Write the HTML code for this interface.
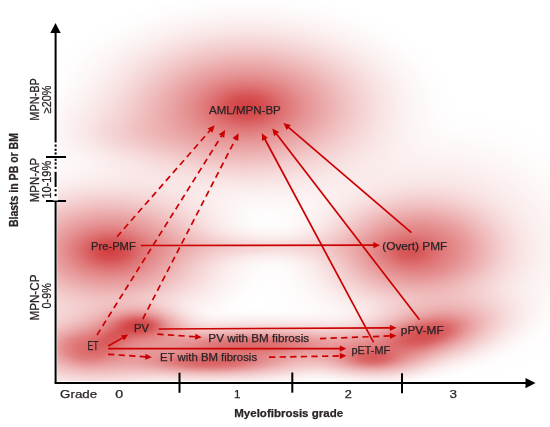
<!DOCTYPE html>
<html><head><meta charset="utf-8"><style>
html,body{margin:0;padding:0;background:#fff;}
svg{display:block;}
text{font-family:"Liberation Sans","DejaVu Sans",sans-serif;fill:#2a2326;stroke:#2a2326;stroke-width:0.25px;}
</style></head><body>
<svg width="550" height="427" viewBox="0 0 550 427">
<defs><radialGradient id="b0" cx="0.5" cy="0.5" r="0.5"><stop offset="0.0000" stop-color="#cd282a" stop-opacity="0.1200"/><stop offset="0.0833" stop-color="#cd282a" stop-opacity="0.1164"/><stop offset="0.1667" stop-color="#cd282a" stop-opacity="0.1032"/><stop offset="0.2500" stop-color="#cd282a" stop-opacity="0.0792"/><stop offset="0.3333" stop-color="#cd282a" stop-opacity="0.0576"/><stop offset="0.4167" stop-color="#cd282a" stop-opacity="0.0408"/><stop offset="0.5000" stop-color="#cd282a" stop-opacity="0.0282"/><stop offset="0.5833" stop-color="#cd282a" stop-opacity="0.0180"/><stop offset="0.6667" stop-color="#cd282a" stop-opacity="0.0102"/><stop offset="0.7500" stop-color="#cd282a" stop-opacity="0.0048"/><stop offset="0.8333" stop-color="#cd282a" stop-opacity="0.0014"/><stop offset="0.9167" stop-color="#cd282a" stop-opacity="0.0000"/><stop offset="1.0000" stop-color="#cd282a" stop-opacity="0.0000"/></radialGradient>
<radialGradient id="b1" cx="0.5" cy="0.5" r="0.5"><stop offset="0.0000" stop-color="#cd282a" stop-opacity="0.9000"/><stop offset="0.0833" stop-color="#cd282a" stop-opacity="0.8100"/><stop offset="0.1667" stop-color="#cd282a" stop-opacity="0.6480"/><stop offset="0.2500" stop-color="#cd282a" stop-opacity="0.5130"/><stop offset="0.3333" stop-color="#cd282a" stop-opacity="0.4050"/><stop offset="0.4167" stop-color="#cd282a" stop-opacity="0.3015"/><stop offset="0.5000" stop-color="#cd282a" stop-opacity="0.2115"/><stop offset="0.5833" stop-color="#cd282a" stop-opacity="0.1350"/><stop offset="0.6667" stop-color="#cd282a" stop-opacity="0.0765"/><stop offset="0.7500" stop-color="#cd282a" stop-opacity="0.0360"/><stop offset="0.8333" stop-color="#cd282a" stop-opacity="0.0108"/><stop offset="0.9167" stop-color="#cd282a" stop-opacity="0.0000"/><stop offset="1.0000" stop-color="#cd282a" stop-opacity="0.0000"/></radialGradient>
<radialGradient id="b2" cx="0.5" cy="0.5" r="0.5"><stop offset="0.0000" stop-color="#cd282a" stop-opacity="0.9000"/><stop offset="0.0833" stop-color="#cd282a" stop-opacity="0.8100"/><stop offset="0.1667" stop-color="#cd282a" stop-opacity="0.6480"/><stop offset="0.2500" stop-color="#cd282a" stop-opacity="0.5130"/><stop offset="0.3333" stop-color="#cd282a" stop-opacity="0.4050"/><stop offset="0.4167" stop-color="#cd282a" stop-opacity="0.3015"/><stop offset="0.5000" stop-color="#cd282a" stop-opacity="0.2115"/><stop offset="0.5833" stop-color="#cd282a" stop-opacity="0.1350"/><stop offset="0.6667" stop-color="#cd282a" stop-opacity="0.0765"/><stop offset="0.7500" stop-color="#cd282a" stop-opacity="0.0360"/><stop offset="0.8333" stop-color="#cd282a" stop-opacity="0.0108"/><stop offset="0.9167" stop-color="#cd282a" stop-opacity="0.0000"/><stop offset="1.0000" stop-color="#cd282a" stop-opacity="0.0000"/></radialGradient>
<radialGradient id="b3" cx="0.5" cy="0.5" r="0.5"><stop offset="0.0000" stop-color="#cd282a" stop-opacity="0.3300"/><stop offset="0.0833" stop-color="#cd282a" stop-opacity="0.3201"/><stop offset="0.1667" stop-color="#cd282a" stop-opacity="0.2838"/><stop offset="0.2500" stop-color="#cd282a" stop-opacity="0.2178"/><stop offset="0.3333" stop-color="#cd282a" stop-opacity="0.1584"/><stop offset="0.4167" stop-color="#cd282a" stop-opacity="0.1122"/><stop offset="0.5000" stop-color="#cd282a" stop-opacity="0.0775"/><stop offset="0.5833" stop-color="#cd282a" stop-opacity="0.0495"/><stop offset="0.6667" stop-color="#cd282a" stop-opacity="0.0281"/><stop offset="0.7500" stop-color="#cd282a" stop-opacity="0.0132"/><stop offset="0.8333" stop-color="#cd282a" stop-opacity="0.0040"/><stop offset="0.9167" stop-color="#cd282a" stop-opacity="0.0000"/><stop offset="1.0000" stop-color="#cd282a" stop-opacity="0.0000"/></radialGradient>
<radialGradient id="b4" cx="0.5" cy="0.5" r="0.5"><stop offset="0.0000" stop-color="#cd282a" stop-opacity="0.7200"/><stop offset="0.0833" stop-color="#cd282a" stop-opacity="0.6480"/><stop offset="0.1667" stop-color="#cd282a" stop-opacity="0.5184"/><stop offset="0.2500" stop-color="#cd282a" stop-opacity="0.4104"/><stop offset="0.3333" stop-color="#cd282a" stop-opacity="0.3240"/><stop offset="0.4167" stop-color="#cd282a" stop-opacity="0.2412"/><stop offset="0.5000" stop-color="#cd282a" stop-opacity="0.1692"/><stop offset="0.5833" stop-color="#cd282a" stop-opacity="0.1080"/><stop offset="0.6667" stop-color="#cd282a" stop-opacity="0.0612"/><stop offset="0.7500" stop-color="#cd282a" stop-opacity="0.0288"/><stop offset="0.8333" stop-color="#cd282a" stop-opacity="0.0086"/><stop offset="0.9167" stop-color="#cd282a" stop-opacity="0.0000"/><stop offset="1.0000" stop-color="#cd282a" stop-opacity="0.0000"/></radialGradient>
<radialGradient id="b5" cx="0.5" cy="0.5" r="0.5"><stop offset="0.0000" stop-color="#cd282a" stop-opacity="0.6500"/><stop offset="0.0833" stop-color="#cd282a" stop-opacity="0.6305"/><stop offset="0.1667" stop-color="#cd282a" stop-opacity="0.5590"/><stop offset="0.2500" stop-color="#cd282a" stop-opacity="0.4290"/><stop offset="0.3333" stop-color="#cd282a" stop-opacity="0.3120"/><stop offset="0.4167" stop-color="#cd282a" stop-opacity="0.2210"/><stop offset="0.5000" stop-color="#cd282a" stop-opacity="0.1527"/><stop offset="0.5833" stop-color="#cd282a" stop-opacity="0.0975"/><stop offset="0.6667" stop-color="#cd282a" stop-opacity="0.0553"/><stop offset="0.7500" stop-color="#cd282a" stop-opacity="0.0260"/><stop offset="0.8333" stop-color="#cd282a" stop-opacity="0.0078"/><stop offset="0.9167" stop-color="#cd282a" stop-opacity="0.0000"/><stop offset="1.0000" stop-color="#cd282a" stop-opacity="0.0000"/></radialGradient>
<radialGradient id="b6" cx="0.5" cy="0.5" r="0.5"><stop offset="0.0000" stop-color="#cd282a" stop-opacity="0.1600"/><stop offset="0.0833" stop-color="#cd282a" stop-opacity="0.1552"/><stop offset="0.1667" stop-color="#cd282a" stop-opacity="0.1376"/><stop offset="0.2500" stop-color="#cd282a" stop-opacity="0.1056"/><stop offset="0.3333" stop-color="#cd282a" stop-opacity="0.0768"/><stop offset="0.4167" stop-color="#cd282a" stop-opacity="0.0544"/><stop offset="0.5000" stop-color="#cd282a" stop-opacity="0.0376"/><stop offset="0.5833" stop-color="#cd282a" stop-opacity="0.0240"/><stop offset="0.6667" stop-color="#cd282a" stop-opacity="0.0136"/><stop offset="0.7500" stop-color="#cd282a" stop-opacity="0.0064"/><stop offset="0.8333" stop-color="#cd282a" stop-opacity="0.0019"/><stop offset="0.9167" stop-color="#cd282a" stop-opacity="0.0000"/><stop offset="1.0000" stop-color="#cd282a" stop-opacity="0.0000"/></radialGradient>
<radialGradient id="b7" cx="0.5" cy="0.5" r="0.5"><stop offset="0.0000" stop-color="#cd282a" stop-opacity="0.6800"/><stop offset="0.0833" stop-color="#cd282a" stop-opacity="0.6596"/><stop offset="0.1667" stop-color="#cd282a" stop-opacity="0.5848"/><stop offset="0.2500" stop-color="#cd282a" stop-opacity="0.4488"/><stop offset="0.3333" stop-color="#cd282a" stop-opacity="0.3264"/><stop offset="0.4167" stop-color="#cd282a" stop-opacity="0.2312"/><stop offset="0.5000" stop-color="#cd282a" stop-opacity="0.1598"/><stop offset="0.5833" stop-color="#cd282a" stop-opacity="0.1020"/><stop offset="0.6667" stop-color="#cd282a" stop-opacity="0.0578"/><stop offset="0.7500" stop-color="#cd282a" stop-opacity="0.0272"/><stop offset="0.8333" stop-color="#cd282a" stop-opacity="0.0082"/><stop offset="0.9167" stop-color="#cd282a" stop-opacity="0.0000"/><stop offset="1.0000" stop-color="#cd282a" stop-opacity="0.0000"/></radialGradient>
<radialGradient id="b8" cx="0.5" cy="0.5" r="0.5"><stop offset="0.0000" stop-color="#cd282a" stop-opacity="0.6200"/><stop offset="0.0833" stop-color="#cd282a" stop-opacity="0.6014"/><stop offset="0.1667" stop-color="#cd282a" stop-opacity="0.5332"/><stop offset="0.2500" stop-color="#cd282a" stop-opacity="0.4092"/><stop offset="0.3333" stop-color="#cd282a" stop-opacity="0.2976"/><stop offset="0.4167" stop-color="#cd282a" stop-opacity="0.2108"/><stop offset="0.5000" stop-color="#cd282a" stop-opacity="0.1457"/><stop offset="0.5833" stop-color="#cd282a" stop-opacity="0.0930"/><stop offset="0.6667" stop-color="#cd282a" stop-opacity="0.0527"/><stop offset="0.7500" stop-color="#cd282a" stop-opacity="0.0248"/><stop offset="0.8333" stop-color="#cd282a" stop-opacity="0.0074"/><stop offset="0.9167" stop-color="#cd282a" stop-opacity="0.0000"/><stop offset="1.0000" stop-color="#cd282a" stop-opacity="0.0000"/></radialGradient>
<radialGradient id="b9" cx="0.5" cy="0.5" r="0.5"><stop offset="0.0000" stop-color="#cd282a" stop-opacity="0.4500"/><stop offset="0.0833" stop-color="#cd282a" stop-opacity="0.4365"/><stop offset="0.1667" stop-color="#cd282a" stop-opacity="0.3870"/><stop offset="0.2500" stop-color="#cd282a" stop-opacity="0.2970"/><stop offset="0.3333" stop-color="#cd282a" stop-opacity="0.2160"/><stop offset="0.4167" stop-color="#cd282a" stop-opacity="0.1530"/><stop offset="0.5000" stop-color="#cd282a" stop-opacity="0.1057"/><stop offset="0.5833" stop-color="#cd282a" stop-opacity="0.0675"/><stop offset="0.6667" stop-color="#cd282a" stop-opacity="0.0383"/><stop offset="0.7500" stop-color="#cd282a" stop-opacity="0.0180"/><stop offset="0.8333" stop-color="#cd282a" stop-opacity="0.0054"/><stop offset="0.9167" stop-color="#cd282a" stop-opacity="0.0000"/><stop offset="1.0000" stop-color="#cd282a" stop-opacity="0.0000"/></radialGradient>
<radialGradient id="b10" cx="0.5" cy="0.5" r="0.5"><stop offset="0.0000" stop-color="#cd282a" stop-opacity="0.8000"/><stop offset="0.0833" stop-color="#cd282a" stop-opacity="0.7760"/><stop offset="0.1667" stop-color="#cd282a" stop-opacity="0.6880"/><stop offset="0.2500" stop-color="#cd282a" stop-opacity="0.5280"/><stop offset="0.3333" stop-color="#cd282a" stop-opacity="0.3840"/><stop offset="0.4167" stop-color="#cd282a" stop-opacity="0.2720"/><stop offset="0.5000" stop-color="#cd282a" stop-opacity="0.1880"/><stop offset="0.5833" stop-color="#cd282a" stop-opacity="0.1200"/><stop offset="0.6667" stop-color="#cd282a" stop-opacity="0.0680"/><stop offset="0.7500" stop-color="#cd282a" stop-opacity="0.0320"/><stop offset="0.8333" stop-color="#cd282a" stop-opacity="0.0096"/><stop offset="0.9167" stop-color="#cd282a" stop-opacity="0.0000"/><stop offset="1.0000" stop-color="#cd282a" stop-opacity="0.0000"/></radialGradient>
<radialGradient id="b11" cx="0.5" cy="0.5" r="0.5"><stop offset="0.0000" stop-color="#cd282a" stop-opacity="0.8000"/><stop offset="0.0833" stop-color="#cd282a" stop-opacity="0.7760"/><stop offset="0.1667" stop-color="#cd282a" stop-opacity="0.6880"/><stop offset="0.2500" stop-color="#cd282a" stop-opacity="0.5280"/><stop offset="0.3333" stop-color="#cd282a" stop-opacity="0.3840"/><stop offset="0.4167" stop-color="#cd282a" stop-opacity="0.2720"/><stop offset="0.5000" stop-color="#cd282a" stop-opacity="0.1880"/><stop offset="0.5833" stop-color="#cd282a" stop-opacity="0.1200"/><stop offset="0.6667" stop-color="#cd282a" stop-opacity="0.0680"/><stop offset="0.7500" stop-color="#cd282a" stop-opacity="0.0320"/><stop offset="0.8333" stop-color="#cd282a" stop-opacity="0.0096"/><stop offset="0.9167" stop-color="#cd282a" stop-opacity="0.0000"/><stop offset="1.0000" stop-color="#cd282a" stop-opacity="0.0000"/></radialGradient>
<radialGradient id="b12" cx="0.5" cy="0.5" r="0.5"><stop offset="0.0000" stop-color="#cd282a" stop-opacity="0.6500"/><stop offset="0.0833" stop-color="#cd282a" stop-opacity="0.6305"/><stop offset="0.1667" stop-color="#cd282a" stop-opacity="0.5590"/><stop offset="0.2500" stop-color="#cd282a" stop-opacity="0.4290"/><stop offset="0.3333" stop-color="#cd282a" stop-opacity="0.3120"/><stop offset="0.4167" stop-color="#cd282a" stop-opacity="0.2210"/><stop offset="0.5000" stop-color="#cd282a" stop-opacity="0.1527"/><stop offset="0.5833" stop-color="#cd282a" stop-opacity="0.0975"/><stop offset="0.6667" stop-color="#cd282a" stop-opacity="0.0553"/><stop offset="0.7500" stop-color="#cd282a" stop-opacity="0.0260"/><stop offset="0.8333" stop-color="#cd282a" stop-opacity="0.0078"/><stop offset="0.9167" stop-color="#cd282a" stop-opacity="0.0000"/><stop offset="1.0000" stop-color="#cd282a" stop-opacity="0.0000"/></radialGradient><clipPath id="plot"><rect x="57.2" y="0" width="494" height="381.2"/></clipPath></defs>
<rect width="550" height="427" fill="#fff"/>
<g clip-path="url(#plot)"><ellipse cx="135" cy="135" rx="180" ry="66" fill="url(#b0)"/>
<ellipse cx="247" cy="107" rx="228" ry="126" fill="url(#b1)"/>
<ellipse cx="110" cy="251" rx="186" ry="108" fill="url(#b2)"/>
<ellipse cx="432" cy="246" rx="210" ry="156" fill="url(#b3)"/>
<ellipse cx="410" cy="252" rx="144" ry="81" fill="url(#b4)"/>
<ellipse cx="255" cy="344" rx="270" ry="39" fill="url(#b5)"/>
<ellipse cx="255" cy="247" rx="270" ry="27" fill="url(#b6)"/>
<ellipse cx="210" cy="362" rx="195" ry="33" fill="url(#b7)"/>
<ellipse cx="86" cy="348" rx="126" ry="66" fill="url(#b8)"/>
<ellipse cx="115" cy="336" rx="66" ry="27" fill="url(#b9)" transform="rotate(-28 115 336)"/>
<ellipse cx="140" cy="326" rx="84" ry="36" fill="url(#b10)"/>
<ellipse cx="426" cy="334" rx="141" ry="54" fill="url(#b11)" transform="rotate(-12 426 334)"/>
<ellipse cx="372" cy="358" rx="90" ry="33" fill="url(#b12)"/></g>
<g><line x1="117.00" y1="236.70" x2="210.65" y2="129.81" stroke="#cc0000" stroke-width="1.7" stroke-dasharray="6.3 4.3"/><polygon points="214.60,125.30 212.43,132.71 207.54,128.42" fill="#cc0000"/>
<line x1="97.00" y1="335.00" x2="222.02" y2="135.09" stroke="#cc0000" stroke-width="1.7" stroke-dasharray="6.3 4.3"/><polygon points="225.20,130.00 224.24,137.66 218.73,134.21" fill="#cc0000"/>
<line x1="142.80" y1="319.00" x2="235.85" y2="138.53" stroke="#cc0000" stroke-width="1.7" stroke-dasharray="6.3 4.3"/><polygon points="238.60,133.20 238.28,140.91 232.50,137.93" fill="#cc0000"/>
<line x1="108.00" y1="354.30" x2="146.41" y2="356.83" stroke="#cc0000" stroke-width="1.7" stroke-dasharray="6.3 4.3"/><polygon points="152.00,357.20 145.21,359.86 145.62,353.67" fill="#cc0000"/>
<line x1="269.00" y1="357.20" x2="340.80" y2="355.90" stroke="#cc0000" stroke-width="1.7" stroke-dasharray="6.3 4.3"/><polygon points="346.40,355.80 339.86,359.02 339.75,352.82" fill="#cc0000"/>
<line x1="157.30" y1="334.10" x2="196.21" y2="336.81" stroke="#cc0000" stroke-width="1.7" stroke-dasharray="6.3 4.3"/><polygon points="201.80,337.20 195.00,339.83 195.43,333.65" fill="#cc0000"/>
<line x1="320.00" y1="338.60" x2="390.90" y2="335.91" stroke="#cc0000" stroke-width="1.7" stroke-dasharray="6.3 4.3"/><polygon points="396.50,335.70 390.02,339.05 389.79,332.85" fill="#cc0000"/>
<line x1="140.80" y1="245.50" x2="374.40" y2="245.21" stroke="#cc0000" stroke-width="1.7"/><polygon points="380.00,245.20 373.40,248.31 373.40,242.11" fill="#cc0000"/>
<line x1="108.20" y1="346.10" x2="123.44" y2="337.38" stroke="#cc0000" stroke-width="1.7"/><polygon points="128.30,334.60 124.11,340.57 121.03,335.19" fill="#cc0000"/>
<line x1="158.70" y1="329.00" x2="390.90" y2="327.83" stroke="#cc0000" stroke-width="1.7"/><polygon points="396.50,327.80 389.92,330.93 389.88,324.73" fill="#cc0000"/>
<line x1="108.20" y1="348.60" x2="340.80" y2="348.60" stroke="#cc0000" stroke-width="1.7"/><polygon points="346.40,348.60 339.80,351.70 339.80,345.50" fill="#cc0000"/>
<line x1="373.60" y1="342.30" x2="264.53" y2="138.49" stroke="#cc0000" stroke-width="1.7"/><polygon points="261.70,133.20 267.87,137.84 262.14,140.91" fill="#cc0000"/>
<line x1="419.50" y1="319.80" x2="275.96" y2="133.26" stroke="#cc0000" stroke-width="1.7"/><polygon points="272.30,128.50 279.14,132.07 273.99,136.03" fill="#cc0000"/>
<line x1="411.40" y1="232.70" x2="287.96" y2="126.90" stroke="#cc0000" stroke-width="1.7"/><polygon points="283.40,123.00 290.83,125.09 286.60,130.02" fill="#cc0000"/></g>

<line x1="55.6" y1="383" x2="55.6" y2="142" stroke="#000" stroke-width="2"/>
<line x1="55.6" y1="142" x2="55.6" y2="32" stroke="#000" stroke-width="2"/>
<polygon points="55.5,23 50.3,33 60.7,33" fill="#000"/>
<line x1="54.6" y1="383" x2="526" y2="383" stroke="#000" stroke-width="2"/>
<polygon points="535.5,383.1 525.5,378.1 525.5,388.2" fill="#000"/>
<line x1="179.5" y1="372.7" x2="179.5" y2="392.8" stroke="#000" stroke-width="2"/>
<line x1="292.3" y1="372.5" x2="292.3" y2="392.7" stroke="#000" stroke-width="2"/>
<line x1="402" y1="373.2" x2="402" y2="393.3" stroke="#000" stroke-width="2"/>
<line x1="46" y1="157" x2="66" y2="157" stroke="#000" stroke-width="2"/>
<line x1="46" y1="201" x2="66" y2="201" stroke="#000" stroke-width="2"/>


<rect x="53" y="142.5" width="5" height="58" fill="#fff"/>
<line x1="46" y1="157" x2="66" y2="157" stroke="#000" stroke-width="2"/>
<g fill="#000">
<rect x="54.6" y="144.5" width="2" height="2.2"/>
<rect x="54.6" y="148.7" width="2" height="2.2"/>
<rect x="54.6" y="152.4" width="2" height="2.2"/>
<rect x="54.6" y="158.7" width="2" height="2.2"/>
<rect x="54.6" y="162.4" width="2" height="2.2"/>
<rect x="54.6" y="166.6" width="2" height="2.2"/>
<rect x="54.6" y="171.8" width="2" height="15.2"/>
<rect x="54.6" y="189.2" width="2" height="2.2"/>
<rect x="54.6" y="193.9" width="2" height="2.2"/>
</g>

<g><text x="208.97" y="114.20" font-size="11.3" textLength="71.84" lengthAdjust="spacingAndGlyphs">AML/MPN-BP</text>
<text x="91.08" y="250.30" font-size="11.1" textLength="44.67" lengthAdjust="spacingAndGlyphs">Pre-PMF</text>
<text x="382.26" y="249.90" font-size="11.1" textLength="65.01" lengthAdjust="spacingAndGlyphs">(Overt) PMF</text>
<text x="87.60" y="349.80" font-size="12" textLength="10.79" lengthAdjust="spacingAndGlyphs">ET</text>
<text x="134.07" y="331.60" font-size="11.1" textLength="14.97" lengthAdjust="spacingAndGlyphs">PV</text>
<text x="208.33" y="341.90" font-size="11.3" textLength="100.79" lengthAdjust="spacingAndGlyphs">PV with BM fibrosis</text>
<text x="160.06" y="361.00" font-size="11.3" textLength="97.03" lengthAdjust="spacingAndGlyphs">ET with BM fibrosis</text>
<text x="400.83" y="333.90" font-size="10.7" textLength="42.87" lengthAdjust="spacingAndGlyphs">pPV-MF</text>
<text x="351.60" y="354.40" font-size="10.5" textLength="38.44" lengthAdjust="spacingAndGlyphs">pET-MF</text>
<text x="60.14" y="397.50" font-size="11.7" textLength="36.95" lengthAdjust="spacingAndGlyphs">Grade</text>
<text x="115.23" y="397.50" font-size="11.7" textLength="7.92" lengthAdjust="spacingAndGlyphs">0</text>
<text x="234" y="397.5" font-size="11.7">1</text>
<text x="344.66" y="397.80" font-size="11.7" textLength="7.09" lengthAdjust="spacingAndGlyphs">2</text>
<text x="449.49" y="397.70" font-size="11.7" textLength="7.49" lengthAdjust="spacingAndGlyphs">3</text>
<text x="234.22" y="417.20" font-size="11.3" textLength="108.88" lengthAdjust="spacingAndGlyphs" font-weight="bold">Myelofibrosis grade</text>
<text x="18.00" y="227.11" font-size="12" textLength="94.03" lengthAdjust="spacingAndGlyphs" font-weight="bold" transform="rotate(-90 18.00 227.11)">Blasts in PB or BM</text>
<text x="39.00" y="120.70" font-size="12" textLength="42.57" lengthAdjust="spacingAndGlyphs" transform="rotate(-90 39.00 120.70)">MPN-BP</text>
<text x="51.20" y="113.15" font-size="12" textLength="27.56" lengthAdjust="spacingAndGlyphs" transform="rotate(-90 51.20 113.15)">≥20%</text>
<text x="39.00" y="202.14" font-size="12" textLength="44.33" lengthAdjust="spacingAndGlyphs" transform="rotate(-90 39.00 202.14)">MPN-AP</text>
<text x="51.20" y="198.52" font-size="12" textLength="37.72" lengthAdjust="spacingAndGlyphs" transform="rotate(-90 51.20 198.52)">10-19%</text>
<text x="39.00" y="320.46" font-size="12" textLength="45.86" lengthAdjust="spacingAndGlyphs" transform="rotate(-90 39.00 320.46)">MPN-CP</text>
<text x="51.20" y="308.43" font-size="12" textLength="25.23" lengthAdjust="spacingAndGlyphs" transform="rotate(-90 51.20 308.43)">0-9%</text></g>
</svg>
</body></html>
